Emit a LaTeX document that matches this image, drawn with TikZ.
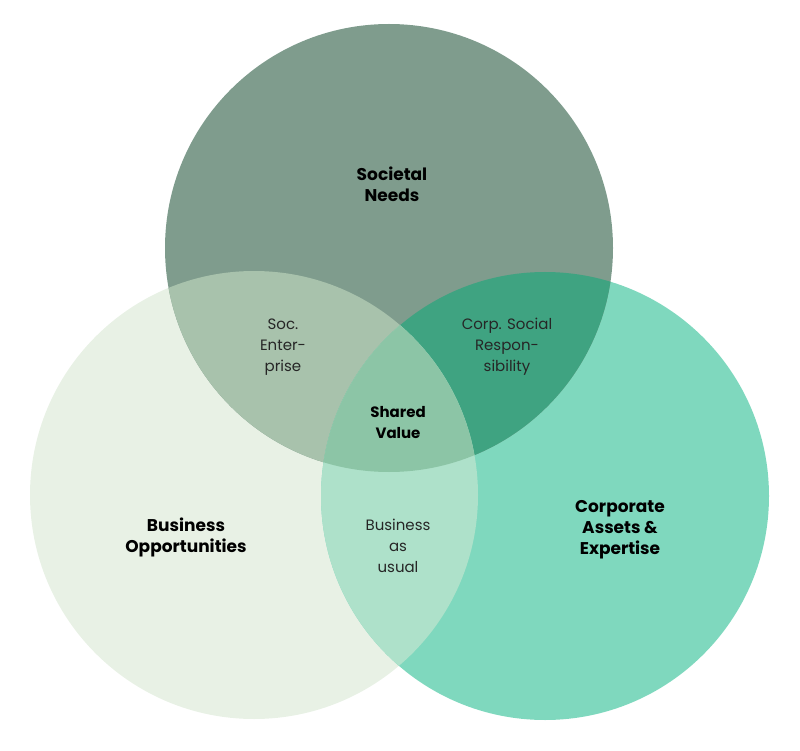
\documentclass[tikz,border=0pt]{standalone}
\usepackage{fontspec}
\setmainfont{Poppins}
\definecolor{cT}{HTML}{7F9C8D}
\definecolor{cL}{HTML}{E8F1E5}
\definecolor{cR}{HTML}{7FD8BE}
\definecolor{cTL}{HTML}{A8C2AC}
\definecolor{cTR}{HTML}{3FA381}
\definecolor{cLR}{HTML}{AEE1CA}
\definecolor{cC}{HTML}{8CC5A6}
\tikzset{big/.style={font=\fontsize{17}{21}\selectfont\bfseries,align=center,text=black},
small/.style={font=\fontsize{15}{21}\selectfont,align=center,text=black!85}}
\begin{document}
\begin{tikzpicture}[x=1pt,y=-1pt]
\useasboundingbox (0,0) rectangle (800,751);
\def\T{(389,248) circle (224)}
\def\L{(254,495) circle (224)}
\def\R{(545,496) circle (224)}
\fill[cL] \L; \fill[cR] \R; \fill[cT] \T;
\begin{scope}\clip \T; \fill[cTL] \L; \fill[cTR] \R; \end{scope}
\begin{scope}\clip \L; \fill[cLR] \R; \end{scope}
\begin{scope}\clip \T; \clip \L; \fill[cC] \R; \end{scope}
\node[big] (sn) at (392,184) {Societal\\Needs};
\node[big] (bo) at (186,537) {Business\\Opportunities};
\node[big] (ca) at (620,530) {Corporate\\Assets \&\\Expertise};
\node[small] (se) at (283,347) {Soc.\\Enter-\\prise};
\node[small] (cs) at (507,347) {Corp. Social\\Respon-\\sibility};
\node[big,font=\fontsize{15}{21}\selectfont\bfseries] (sv) at (398,423) {Shared\\Value};
\node[small] (bu) at (398,546) {Business\\as\\usual};
\end{tikzpicture}
\end{document}
